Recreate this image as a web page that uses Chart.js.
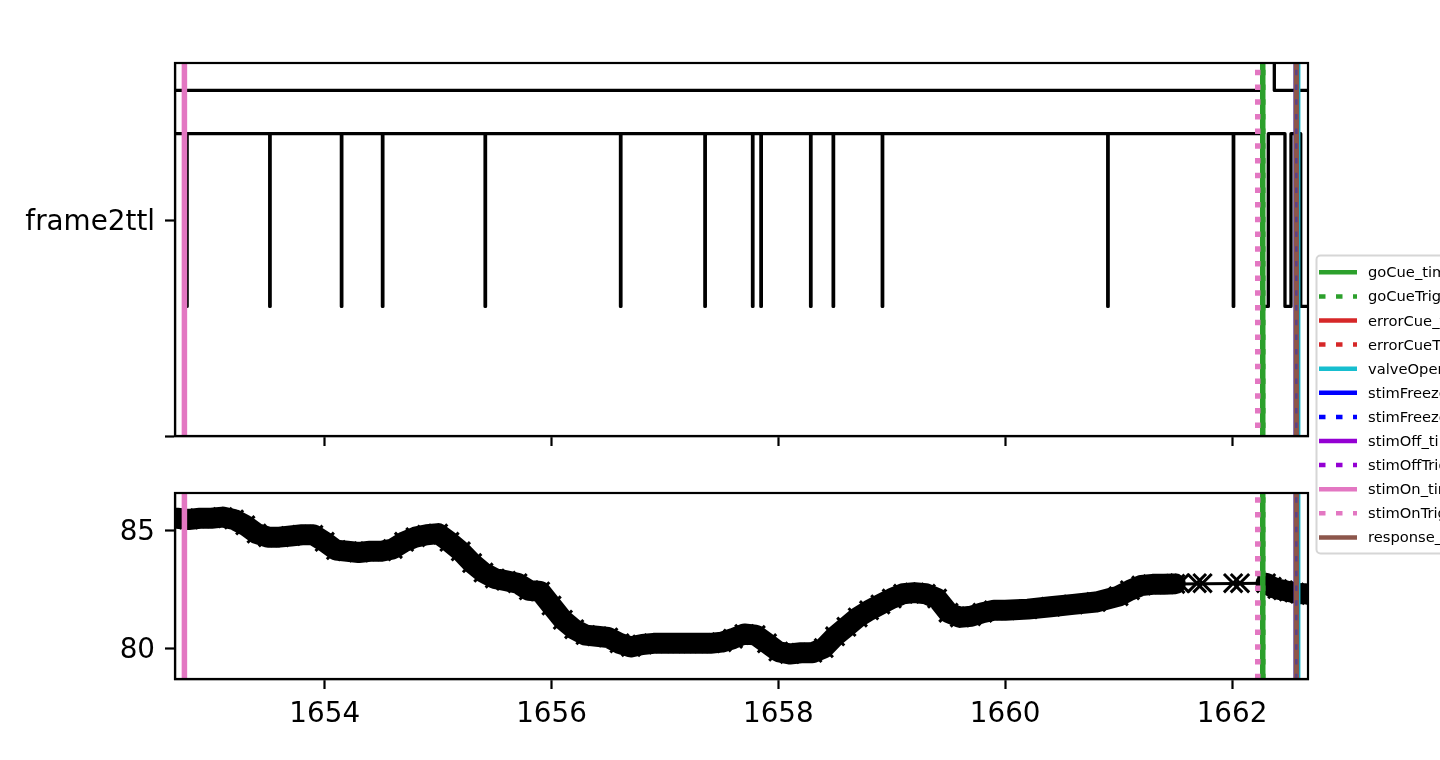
<!DOCTYPE html>
<html>
<head>
<meta charset="utf-8">
<script src="https://cdn.jsdelivr.net/npm/chart.js@4.4.1/dist/chart.umd.min.js"></script>
<style>
    html, body { margin: 0; padding: 0; background: #fff; width: 1440px; height: 760px; overflow: hidden; }
    canvas { position: absolute; left: 0; top: 0; }
</style>
</head>
<body>
<canvas id="ttlChart" width="1440" height="760"></canvas>
<canvas id="wheelChart" width="1440" height="760"></canvas>
<script>
// ---- data ----
const xRange = [1652.68, 1662.67];
const xTicks = [1654, 1656, 1658, 1660, 1662];

const ttlRange = [0, 1.727];
const ttlTicks = [0, 1];
const ttlTickLabels = ['', 'frame2ttl'];

const wheelRange = [78.69, 86.57];
const wheelTicks = [80, 85];

// frame2ttl transitions (time, polarity) - offset 1 on the trace axis
const frame2ttlTimes = [1652.60, 1652.783, 1652.787, 1653.515, 1653.519, 1654.147, 1654.151,
    1654.509, 1654.513, 1655.414, 1655.418, 1656.608, 1656.612, 1657.352, 1657.356,
    1657.772, 1657.776, 1657.846, 1657.850, 1658.284, 1658.288, 1658.483, 1658.487,
    1658.916, 1658.920, 1660.904, 1660.908, 1662.011, 1662.015, 1662.262, 1662.320,
    1662.467, 1662.520, 1662.606, 1662.75];
const frame2ttlPolarities = [1, -1, 1, -1, 1, -1, 1, -1, 1, -1, 1, -1, 1, -1, 1, -1, 1, -1,
    1, -1, 1, -1, 1, -1, 1, -1, 1, -1, 1, -1, 1, -1, 1, -1, -1];

// audio transitions - offset 2 (mostly above the visible range)
const audioTimes = [1652.60, 1662.264, 1662.373, 1662.75];
const audioPolarities = [-1, 1, -1, -1];

// wheel position, sampled while moving
const wheelTimes = [1652.60, 1652.70, 1652.80, 1652.90, 1653.00, 1653.10, 1653.20, 1653.30,
    1653.40, 1653.50, 1653.60, 1653.70, 1653.80, 1653.90, 1654.00, 1654.10, 1654.20, 1654.30,
    1654.40, 1654.50, 1654.60, 1654.70, 1654.80, 1654.90, 1655.00, 1655.10, 1655.20, 1655.30,
    1655.40, 1655.50, 1655.60, 1655.70, 1655.80, 1655.90, 1656.00, 1656.10, 1656.20, 1656.30,
    1656.40, 1656.50, 1656.60, 1656.70, 1656.80, 1656.90, 1657.00, 1657.10, 1657.20, 1657.30,
    1657.40, 1657.50, 1657.60, 1657.70, 1657.80, 1657.90, 1658.00, 1658.10, 1658.20, 1658.30,
    1658.40, 1658.50, 1658.60, 1658.70, 1658.80, 1658.90, 1659.00, 1659.10, 1659.20, 1659.30,
    1659.40, 1659.50, 1659.60, 1659.70, 1659.80, 1659.90, 1660.00, 1660.20, 1660.40, 1660.60,
    1660.80, 1661.00, 1661.10, 1661.20, 1661.30, 1661.40, 1661.50, 1662.30, 1662.35, 1662.40,
    1662.45, 1662.50, 1662.55, 1662.60, 1662.65, 1662.70, 1662.75];
const wheelPositions = [85.5, 85.5, 85.45, 85.5, 85.5, 85.55, 85.45, 85.2,
    84.85, 84.7, 84.7, 84.75, 84.8, 84.8, 84.5, 84.15, 84.1, 84.05,
    84.1, 84.1, 84.2, 84.5, 84.7, 84.8, 84.85, 84.5, 84.1, 83.6,
    83.2, 82.95, 82.85, 82.75, 82.45, 82.4, 81.8, 81.2, 80.8, 80.55,
    80.5, 80.45, 80.2, 80.05, 80.15, 80.2, 80.2, 80.2, 80.2, 80.2,
    80.2, 80.25, 80.4, 80.6, 80.55, 80.2, 79.85, 79.75, 79.8, 79.8,
    80.0, 80.5, 80.9, 81.3, 81.6, 81.85, 82.1, 82.3, 82.35, 82.3,
    82.1, 81.5, 81.3, 81.35, 81.5, 81.6, 81.6, 81.65, 81.75, 81.85,
    81.95, 82.2, 82.45, 82.65, 82.7, 82.7, 82.72, 82.75, 82.6, 82.5,
    82.45, 82.4, 82.35, 82.3, 82.3, 82.25, 82.2];

// isolated samples while the wheel is still
const wheelStillTimes = [1661.54, 1661.69, 1661.74, 1662.01, 1662.07];
const wheelStillPositions = [82.75, 82.75, 82.75, 82.75, 82.75];

// trial events
const goCueTimes = [1662.271];
const goCueTriggerTimes = [1662.271];
const errorCueTimes = [];
const errorCueTriggerTimes = [];
const valveOpenTimes = [1662.579];
const stimFreezeTimes = [1662.567];
const stimFreezeTriggerTimes = [1662.567];
const stimOffTimes = [];
const stimOffTriggerTimes = [];
const stimOnTimes = [1652.763];
const stimOnTriggerTimes = [1662.227];
const responseTimes = [1662.567];

// ---- style ----
const FONT = 'DejaVu Sans';
const SPINE = 2.2;
Chart.defaults.font.family = FONT;

const events = [
    { name: 'goCue_times', times: goCueTimes, color: '#2ca02c', dotted: false },
    { name: 'goCueTrigger_times', times: goCueTriggerTimes, color: '#2ca02c', dotted: true },
    { name: 'errorCue_times', times: errorCueTimes, color: '#d62728', dotted: false },
    { name: 'errorCueTrigger_times', times: errorCueTriggerTimes, color: '#d62728', dotted: true },
    { name: 'valveOpen_times', times: valveOpenTimes, color: '#17becf', dotted: false },
    { name: 'stimFreeze_times', times: stimFreezeTimes, color: '#0000ff', dotted: false },
    { name: 'stimFreezeTrigger_times', times: stimFreezeTriggerTimes, color: '#0000ff', dotted: true, overlay: true },
    { name: 'stimOff_times', times: stimOffTimes, color: '#9400d3', dotted: false },
    { name: 'stimOffTrigger_times', times: stimOffTriggerTimes, color: '#9400d3', dotted: true },
    { name: 'stimOn_times', times: stimOnTimes, color: '#e377c2', dotted: false },
    { name: 'stimOnTrigger_times', times: stimOnTriggerTimes, color: '#e377c2', dotted: true },
    { name: 'response_times', times: responseTimes, color: '#8c564b', dotted: false }
];

function eventDatasets(yLo, yHi) {
    return events.map((e, i) => ({
        label: e.name,
        data: e.times.flatMap(t => [{ x: t, y: yLo }, { x: t, y: yHi }, { x: t, y: null }]),
        showLine: true,
        spanGaps: false,
        borderColor: e.overlay ? 'rgba(40,40,200,0.45)' : e.color,
        borderWidth: e.overlay ? 2.5 : 5.5,
        borderDash: e.dotted ? [5.5, 9.2] : [],
        borderCapStyle: 'butt',
        pointRadius: 0,
        clip: 0,
        order: e.overlay ? -1 : events.length - i
    }));
}

function stepData(times, pols, offset) {
    return times.map((t, i) => ({ x: t, y: offset + 0.4 * pols[i] }));
}

const framePlugin = {
    id: 'frame',
    afterDatasetsDraw(chart) {
        const a = chart.chartArea, ctx = chart.ctx;
        ctx.save();
        ctx.strokeStyle = '#000';
        ctx.lineWidth = SPINE;
        ctx.strokeRect(a.left, a.top, a.right - a.left, a.bottom - a.top);
        ctx.restore();
    }
};

const legendPlugin = {
    id: 'eventLegend',
    afterDraw(chart) {
        const ctx = chart.ctx;
        ctx.save();
        ctx.beginPath();
        ctx.roundRect(1316.5, 255.5, 200, 298, 4);
        ctx.fillStyle = 'rgba(255,255,255,0.8)';
        ctx.fill();
        ctx.strokeStyle = '#d6d6d6';
        ctx.lineWidth = 2;
        ctx.stroke();
        events.forEach((e, i) => {
            const y = 272.3 + i * 24.1;
            ctx.beginPath();
            ctx.setLineDash(e.dotted ? [6.5, 10.5] : []);
            ctx.lineCap = 'butt';
            ctx.strokeStyle = e.color;
            ctx.lineWidth = 4.5;
            ctx.moveTo(1319, y);
            ctx.lineTo(1357, y);
            ctx.stroke();
            ctx.setLineDash([]);
            ctx.fillStyle = '#000';
            ctx.font = '14.7px "DejaVu Sans"';
            ctx.textBaseline = 'alphabetic';
            ctx.fillText(e.name, 1368, y + 5);
        });
        ctx.restore();
    }
};

function xScale(showLabels, height) {
    return {
        type: 'linear', min: xRange[0], max: xRange[1],
        afterBuildTicks: s => { s.ticks = xTicks.map(v => ({ value: v })); },
        afterFit: s => { s.height = height; },
        grid: { display: true, drawOnChartArea: false, drawTicks: true, tickLength: 10, tickWidth: SPINE, tickColor: '#000' },
        border: { display: true, color: '#000', width: SPINE },
        ticks: {
            display: true, color: '#000', padding: 9, maxRotation: 0, autoSkip: false,
            font: { family: FONT, size: 27.8 },
            callback: v => showLabels ? String(v) : ''
        }
    };
}

function yScale(range, ticks, labelFn) {
    return {
        type: 'linear', min: range[0], max: range[1],
        afterBuildTicks: s => { s.ticks = ticks.map(v => ({ value: v })); },
        afterFit: s => { s.width = 175; },
        grid: { display: true, drawOnChartArea: false, drawTicks: true, tickLength: 10, tickWidth: SPINE, tickColor: '#000' },
        border: { display: true, color: '#000', width: SPINE },
        ticks: {
            display: true, color: '#000', padding: 10, autoSkip: false, labelOffset: 3,
            font: { family: FONT, size: 27.8 },
            callback: labelFn
        }
    };
}

const baseOptions = {
    responsive: false,
    animation: false,
    events: [],
    plugins: { legend: { display: false }, tooltip: { enabled: false } }
};

// ---- top: TTL traces ----
new Chart(document.getElementById('ttlChart'), {
    type: 'scatter',
    data: {
        datasets: [
            ...eventDatasets(-5, 5),
            {
                label: 'frame2ttl',
                data: stepData(frame2ttlTimes, frame2ttlPolarities, 1),
                showLine: true, stepped: 'before',
                borderColor: '#000', borderWidth: 3.3, borderJoinStyle: 'round', borderCapStyle: 'round',
                pointRadius: 0, clip: 0, order: 50
            },
            {
                label: 'audio',
                data: stepData(audioTimes, audioPolarities, 2),
                showLine: true, stepped: 'before',
                borderColor: '#000', borderWidth: 3.3, borderJoinStyle: 'round',
                pointRadius: 0, clip: 0, order: 50
            }
        ]
    },
    options: {
        ...baseOptions,
        layout: { padding: { left: 0, right: 132, top: 63, bottom: 314 } },
        scales: {
            x: xScale(false, 10),
            y: yScale(ttlRange, ttlTicks, v => ttlTickLabels[ttlTicks.indexOf(v)] ?? '')
        }
    },
    plugins: [framePlugin]
});

// ---- bottom: wheel ----
new Chart(document.getElementById('wheelChart'), {
    type: 'scatter',
    data: {
        datasets: [
            ...eventDatasets(60, 100),
            {
                label: 'wheel',
                data: wheelTimes.map((t, i) => ({ x: t, y: wheelPositions[i] })),
                showLine: true,
                borderColor: '#000', borderWidth: 21,
                borderJoinStyle: 'round', borderCapStyle: 'round',
                segment: { borderWidth: c => (c.p1.parsed.x - c.p0.parsed.x > 0.3 ? 3 : 21) },
                pointStyle: 'crossRot', pointRadius: 13, pointBorderWidth: 3,
                pointBorderColor: '#000', pointBackgroundColor: '#000',
                clip: 0, order: 50
            },
            {
                label: 'wheel still',
                data: wheelStillTimes.map((t, i) => ({ x: t, y: wheelStillPositions[i] })),
                showLine: false,
                pointStyle: 'crossRot', pointRadius: 13, pointBorderWidth: 3,
                pointBorderColor: '#000', pointBackgroundColor: '#000',
                clip: 0, order: 49
            }
        ]
    },
    options: {
        ...baseOptions,
        layout: { padding: { left: 0, right: 132, top: 493, bottom: 11 } },
        scales: {
            x: xScale(true, 70),
            y: yScale(wheelRange, wheelTicks, v => String(v))
        }
    },
    plugins: [framePlugin, legendPlugin]
});
</script>
</body>
</html>
